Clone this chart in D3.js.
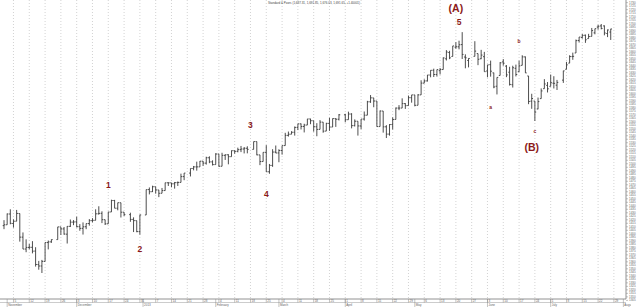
<!DOCTYPE html>
<html><head><meta charset="utf-8">
<script src="https://cdn.jsdelivr.net/npm/d3@7"></script>
<style>html,body{margin:0;padding:0;background:#fff;overflow:hidden}</style>
</head><body><svg id="c" width="640" height="307"></svg>
<script>
const dates = [
"2012-10-31","2012-11-01","2012-11-02","2012-11-05","2012-11-06","2012-11-07","2012-11-08","2012-11-09","2012-11-12","2012-11-13","2012-11-14","2012-11-15","2012-11-16","2012-11-19","2012-11-20","2012-11-21","2012-11-23","2012-11-26","2012-11-27","2012-11-28","2012-11-29","2012-11-30",
"2012-12-03","2012-12-04","2012-12-05","2012-12-06","2012-12-07","2012-12-10","2012-12-11","2012-12-12","2012-12-13","2012-12-14","2012-12-17","2012-12-18","2012-12-19","2012-12-20","2012-12-21","2012-12-24","2012-12-26","2012-12-27","2012-12-28","2012-12-31",
"2013-01-02","2013-01-03","2013-01-04","2013-01-07","2013-01-08","2013-01-09","2013-01-10","2013-01-11","2013-01-14","2013-01-15","2013-01-16","2013-01-17","2013-01-18","2013-01-22","2013-01-23","2013-01-24","2013-01-25","2013-01-28","2013-01-29","2013-01-30","2013-01-31",
"2013-02-01","2013-02-04","2013-02-05","2013-02-06","2013-02-07","2013-02-08","2013-02-11","2013-02-12","2013-02-13","2013-02-14","2013-02-15","2013-02-19","2013-02-20","2013-02-21","2013-02-22","2013-02-25","2013-02-26","2013-02-27","2013-02-28",
"2013-03-01","2013-03-04","2013-03-05","2013-03-06","2013-03-07","2013-03-08","2013-03-11","2013-03-12","2013-03-13","2013-03-14","2013-03-15","2013-03-18","2013-03-19","2013-03-20","2013-03-21","2013-03-22","2013-03-25","2013-03-26","2013-03-27","2013-03-28",
"2013-04-01","2013-04-02","2013-04-03","2013-04-04","2013-04-05","2013-04-08","2013-04-09","2013-04-10","2013-04-11","2013-04-12","2013-04-15","2013-04-16","2013-04-17","2013-04-18","2013-04-19","2013-04-22","2013-04-23","2013-04-24","2013-04-25","2013-04-26","2013-04-29","2013-04-30",
"2013-05-01","2013-05-02","2013-05-03","2013-05-06","2013-05-07","2013-05-08","2013-05-09","2013-05-10","2013-05-13","2013-05-14","2013-05-15","2013-05-16","2013-05-17","2013-05-20","2013-05-21","2013-05-22","2013-05-23","2013-05-24","2013-05-28","2013-05-29","2013-05-30","2013-05-31",
"2013-06-03","2013-06-04","2013-06-05","2013-06-06","2013-06-07","2013-06-10","2013-06-11","2013-06-12","2013-06-13","2013-06-14","2013-06-17","2013-06-18","2013-06-19","2013-06-20","2013-06-21","2013-06-24","2013-06-25","2013-06-26","2013-06-27","2013-06-28",
"2013-07-01","2013-07-02","2013-07-03","2013-07-05","2013-07-08","2013-07-09","2013-07-10","2013-07-11","2013-07-12","2013-07-15","2013-07-16","2013-07-17","2013-07-18","2013-07-19","2013-07-22","2013-07-23","2013-07-24","2013-07-25","2013-07-26"];
const opens = [
1410.99,1412.20,1427.59,1414.02,1417.26,1428.27,1394.53,1377.55,1379.86,1380.03,1374.64,1355.41,1353.36,1359.88,1386.82,1387.79,1391.03,1409.15,1406.29,1398.77,1409.96,1415.95,
1416.34,1409.46,1407.05,1409.43,1413.95,1418.07,1418.55,1427.84,1428.48,1419.45,1413.54,1430.47,1446.79,1435.81,1443.67,1430.15,1426.66,1419.83,1418.10,1402.43,
1426.19,1462.42,1459.37,1466.47,1461.89,1457.15,1461.02,1472.12,1472.05,1470.67,1472.33,1472.63,1480.95,1485.98,1492.56,1494.81,1494.82,1502.96,1500.18,1507.84,1501.96,
1498.11,1513.17,1495.71,1511.29,1512.12,1509.39,1517.93,1517.01,1519.43,1520.33,1521.38,1519.79,1530.94,1511.95,1502.42,1515.60,1487.85,1496.94,1515.99,
1514.68,1518.20,1525.20,1539.79,1541.46,1544.26,1551.15,1556.22,1552.48,1554.52,1563.21,1560.70,1552.10,1548.34,1558.71,1545.90,1556.89,1551.69,1563.75,1562.86,
1569.18,1562.17,1570.25,1553.69,1559.98,1553.26,1563.11,1568.61,1587.73,1593.30,1588.84,1552.36,1574.57,1552.03,1541.61,1555.25,1562.50,1578.78,1578.78,1585.16,1582.34,1593.58,
1597.55,1582.77,1597.60,1614.40,1617.55,1625.95,1632.69,1626.69,1632.10,1633.75,1649.13,1658.07,1652.45,1665.71,1666.20,1669.39,1651.62,1646.67,1652.63,1656.57,1649.14,1652.13,
1631.71,1640.73,1629.05,1609.94,1625.27,1644.67,1638.64,1629.94,1612.15,1635.52,1630.64,1639.77,1651.83,1624.62,1588.62,1588.77,1577.52,1592.27,1606.44,1611.12,
1609.78,1614.29,1611.48,1618.65,1634.20,1642.89,1652.28,1657.41,1675.26,1679.59,1682.70,1677.91,1681.05,1686.15,1694.41,1696.06,1696.06,1685.21,1687.31];
const highs = [
1418.76,1428.35,1434.27,1419.90,1433.38,1428.27,1401.23,1391.39,1384.87,1388.81,1380.13,1360.62,1362.03,1386.89,1389.77,1391.25,1409.16,1409.15,1409.01,1410.31,1419.70,1418.86,
1423.73,1413.14,1415.56,1413.95,1420.34,1421.64,1434.27,1438.59,1431.36,1419.45,1430.67,1448.00,1447.75,1443.70,1443.67,1430.15,1429.42,1422.80,1418.10,1426.74,
1462.43,1465.47,1467.94,1466.47,1461.89,1464.73,1472.30,1472.75,1472.05,1473.31,1473.96,1485.16,1485.98,1492.56,1496.13,1502.27,1503.26,1503.23,1509.35,1509.94,1504.19,
1514.41,1513.17,1514.96,1512.53,1512.90,1518.31,1518.31,1522.29,1524.69,1523.14,1524.24,1530.94,1530.94,1511.95,1515.64,1525.84,1498.99,1520.08,1525.34,
1519.99,1525.27,1543.47,1545.25,1545.78,1552.48,1556.27,1556.77,1556.39,1563.32,1563.62,1560.70,1557.25,1561.56,1558.71,1557.74,1564.91,1563.95,1564.07,1570.28,
1570.57,1573.66,1571.47,1562.60,1559.98,1563.07,1573.89,1589.07,1597.35,1593.30,1588.84,1575.35,1574.57,1554.38,1555.89,1565.55,1579.58,1583.00,1592.64,1585.78,1596.65,1597.57,
1597.55,1598.60,1618.46,1619.77,1626.03,1632.78,1635.01,1633.70,1636.00,1651.10,1661.49,1660.51,1667.47,1672.84,1674.93,1687.18,1655.50,1649.78,1674.21,1656.57,1661.91,1658.99,
1640.42,1646.53,1629.31,1622.56,1644.40,1648.69,1640.13,1637.71,1639.25,1640.80,1646.50,1654.19,1652.45,1624.62,1599.19,1588.77,1593.79,1606.83,1620.07,1615.94,
1626.61,1624.26,1618.97,1632.07,1644.68,1654.18,1657.92,1676.63,1680.19,1684.51,1683.73,1684.75,1693.12,1692.09,1697.61,1698.78,1696.81,1690.94,1691.85];
const lows = [
1405.95,1412.20,1412.91,1408.13,1417.26,1388.14,1377.51,1373.03,1377.19,1371.39,1352.50,1348.05,1343.35,1359.88,1377.04,1386.39,1391.03,1397.68,1398.03,1385.43,1409.04,1411.63,
1408.46,1403.65,1398.23,1405.93,1410.90,1415.64,1418.55,1426.76,1414.58,1411.88,1413.54,1430.47,1435.80,1432.82,1422.58,1424.66,1416.43,1401.80,1401.58,1398.11,
1426.19,1455.53,1458.99,1456.62,1451.64,1457.15,1461.02,1467.58,1465.69,1463.76,1467.60,1472.63,1475.81,1481.16,1489.90,1489.46,1494.82,1496.33,1498.09,1500.11,1496.76,
1498.11,1495.02,1495.71,1504.71,1498.49,1509.39,1513.61,1515.61,1515.93,1514.02,1514.14,1519.79,1511.41,1497.29,1502.42,1487.85,1485.01,1494.88,1514.46,
1501.48,1512.29,1525.20,1538.11,1541.46,1539.46,1547.36,1548.24,1544.00,1554.52,1555.74,1545.13,1538.57,1548.34,1543.55,1545.90,1546.22,1551.69,1551.90,1561.08,
1558.47,1562.17,1549.80,1552.52,1539.50,1548.63,1560.92,1568.61,1586.17,1579.97,1552.28,1552.36,1543.69,1536.03,1539.40,1548.19,1562.50,1575.80,1578.78,1577.56,1582.34,1586.50,
1581.28,1582.77,1597.60,1614.21,1616.64,1622.70,1623.09,1623.71,1626.74,1633.75,1646.68,1648.60,1652.45,1663.52,1662.67,1648.86,1635.53,1636.88,1652.63,1640.05,1648.61,1630.74,
1622.72,1623.62,1607.09,1598.23,1625.27,1639.26,1622.92,1610.92,1608.07,1623.96,1630.34,1639.77,1628.91,1584.32,1577.70,1560.33,1577.09,1592.27,1606.44,1601.06,
1609.78,1606.77,1604.57,1614.71,1634.20,1642.89,1647.66,1657.41,1672.33,1677.89,1671.84,1677.91,1681.05,1684.08,1690.67,1691.13,1682.62,1680.07,1676.03];
const closes = [
1412.16,1427.59,1414.20,1417.26,1428.39,1394.53,1377.51,1379.85,1380.03,1374.53,1355.49,1353.33,1359.88,1386.89,1387.81,1391.03,1409.15,1406.29,1398.94,1409.93,1415.95,1416.18,
1409.46,1407.05,1409.28,1413.94,1418.07,1418.55,1427.84,1428.48,1419.45,1413.58,1430.36,1446.79,1435.81,1443.69,1430.15,1426.66,1419.83,1418.10,1402.43,1426.19,
1462.42,1459.37,1466.47,1461.89,1457.15,1461.02,1472.12,1472.05,1470.68,1472.34,1472.63,1480.94,1485.98,1492.56,1494.81,1494.82,1502.96,1500.18,1507.84,1501.96,1498.11,
1513.17,1495.71,1511.29,1512.12,1509.39,1517.93,1517.01,1519.43,1520.33,1521.38,1519.79,1530.94,1511.95,1502.42,1515.60,1487.85,1496.94,1515.99,1514.68,
1518.20,1525.20,1539.79,1541.46,1544.26,1551.18,1556.22,1552.48,1554.52,1563.23,1560.70,1552.10,1548.34,1558.71,1545.80,1556.89,1551.69,1563.77,1562.85,1569.19,
1562.17,1570.25,1553.69,1559.98,1553.28,1563.07,1568.61,1587.73,1593.37,1588.85,1552.36,1574.57,1552.01,1541.61,1555.25,1562.50,1578.78,1578.79,1585.16,1582.24,1593.61,1597.57,
1582.70,1597.59,1614.42,1617.50,1625.96,1632.69,1626.67,1633.70,1633.77,1650.34,1658.78,1650.47,1667.47,1666.29,1669.16,1655.35,1650.51,1649.60,1660.06,1648.36,1654.41,1630.74,
1640.42,1631.38,1608.90,1622.56,1643.38,1642.81,1626.13,1612.52,1636.36,1626.73,1639.04,1651.81,1628.93,1588.19,1592.43,1573.09,1588.03,1603.26,1613.20,1606.28,
1614.96,1614.08,1615.41,1631.89,1640.46,1652.32,1652.62,1675.02,1680.19,1682.50,1676.26,1680.91,1689.37,1692.09,1695.53,1692.39,1685.94,1690.25,1691.65];

// Elliott wave annotations
const waveText  = ["1","2","3","4","5","(A)","a","b","c","(B)"];
const waveDate  = ["2012-12-17","2012-12-31","2013-02-18","2013-02-25","2013-05-21","2013-05-20","2013-06-04","2013-06-17","2013-06-24","2013-06-21"];
const wavePrice = [1469,1377,1554,1456.5,1701,1721,1581,1674.5,1546.5,1523.5];
const waveSize  = ["big","big","big","big","big","huge","small","small","small","huge"];

const title = "Standard & Poors (1,687.31, 1,691.85, 1,676.03, 1,691.65, +1.40001)";
const priceTicks = d3.range(1305, 1735, 5);

const svg = d3.select('#c');
const parse = d3.utcParse('%Y-%m-%d');
const fmt = d3.utcFormat('%Y-%m-%d');
const start = parse('2012-10-31'), end = parse('2013-08-02');
const weekdays = d3.utcDays(start, d3.utcDay.offset(end, 1)).filter(d => d.getUTCDay() !== 0 && d.getUTCDay() !== 6);
const x = d3.scalePoint().domain(weekdays.map(fmt)).range([4, 4 + (weekdays.length - 1) * 3.16]);
const y = d3.scaleLinear().domain([1343.35, 1698.78]).range([273, 24]);

const plotR = 626, plotB = 299;

// weekly grid
const mondays = d3.utcMonday.range(start, d3.utcDay.offset(end, 1));
svg.append('g').selectAll('line').data(mondays).join('line')
  .attr('x1', d => x(fmt(d))).attr('x2', d => x(fmt(d)))
  .attr('y1', 0).attr('y2', plotB)
  .attr('stroke', '#c8c8c8').attr('stroke-width', 0.8).attr('stroke-dasharray', '1,2');

// title
svg.append('text').attr('x', 268).attr('y', 4.2).attr('font-family', 'Liberation Sans, Arial, sans-serif')
  .attr('font-size', 3).attr('fill', '#444').attr('textLength', 92).attr('lengthAdjust', 'spacingAndGlyphs').text(title);

// OHLC bars
const bars = dates.map((d, i) => ({d, o: opens[i], h: highs[i], l: lows[i], c: closes[i]}));
const tk = 1.3;
svg.append('g').selectAll('path').data(bars).join('path')
  .attr('d', b => {
    const xx = x(b.d);
    return `M${xx},${y(b.h)}V${y(b.l)}M${xx - tk},${y(b.o)}H${xx}M${xx},${y(b.c)}H${xx + tk}`;
  })
  .attr('fill', 'none').attr('stroke', '#3a3a3a').attr('stroke-width', 0.9);

// right price axis
const yAxis = d3.axisRight(y).tickValues(priceTicks).tickSize(2).tickPadding(1).tickFormat(d3.format('d'));
const ya = svg.append('g').attr('transform', `translate(${plotR},0)`).call(yAxis);
ya.select('.domain').attr('stroke', '#777').attr('stroke-width', 0.8).attr('d', `M0,0V${plotB}`);
ya.selectAll('.tick line').attr('stroke', '#888').attr('stroke-width', 0.5);
ya.selectAll('.tick text').attr('font-size', 3).attr('font-family', 'Liberation Sans, Arial, sans-serif').attr('fill', '#666');

// bottom time axis
const ax = svg.append('g');
ax.append('line').attr('x1', 0).attr('x2', plotR).attr('y1', plotB).attr('y2', plotB).attr('stroke', '#777').attr('stroke-width', 0.8);
ax.append('line').attr('x1', 0).attr('x2', plotR).attr('y1', plotB + 3.5).attr('y2', plotB + 3.5).attr('stroke', '#999').attr('stroke-width', 0.5);
const wk = ax.selectAll('g.wk').data(mondays).join('g').attr('class', 'wk')
  .attr('transform', d => `translate(${x(fmt(d))},${plotB})`);
wk.append('line').attr('y1', 0).attr('y2', 3.5).attr('stroke', '#888').attr('stroke-width', 0.5);
wk.append('text').attr('x', 1).attr('y', 2.9).attr('font-size', 3).attr('font-family', 'Liberation Sans, Arial, sans-serif')
  .attr('fill', '#666').text(d => d.getUTCDate());

const monthStarts = d3.utcMonth.range(parse('2012-11-01'), d3.utcDay.offset(end, 1)).map(m => {
  let d = m; while (d.getUTCDay() === 0 || d.getUTCDay() === 6) d = d3.utcDay.offset(d, 1); return {m, d};
});
const monthName = d3.utcFormat('%B');
svg.append('clipPath').attr('id', 'clipM').append('rect').attr('x', 0).attr('y', 0).attr('width', 631).attr('height', 307);
const mg = ax.append('g').attr('clip-path', 'url(#clipM)').selectAll('g').data(monthStarts).join('g')
  .attr('transform', d => `translate(${x(fmt(d.d))},${plotB})`);
mg.append('line').attr('y1', 0).attr('y2', 8).attr('stroke', '#888').attr('stroke-width', 0.5);
mg.append('text').attr('x', 1).attr('y', 6.8).attr('font-size', 3).attr('font-family', 'Liberation Sans, Arial, sans-serif')
  .attr('fill', '#666').text(d => d.m.getUTCMonth() === 0 ? d.m.getUTCFullYear() : monthName(d.m));

// wave labels
const sizes = {small: 5, big: 8.5, huge: 10.5};
svg.append('g').selectAll('text').data(waveText.map((t, i) => ({t, d: waveDate[i], p: wavePrice[i], s: waveSize[i]}))).join('text')
  .attr('x', w => x(w.d)).attr('y', w => y(w.p)).attr('text-anchor', 'middle').attr('dominant-baseline', 'central')
  .attr('font-family', 'Liberation Sans, Arial, sans-serif').attr('font-weight', 'bold')
  .attr('font-size', w => sizes[w.s]).attr('fill', '#8b1a1a').text(w => w.t);
</script></body></html>
